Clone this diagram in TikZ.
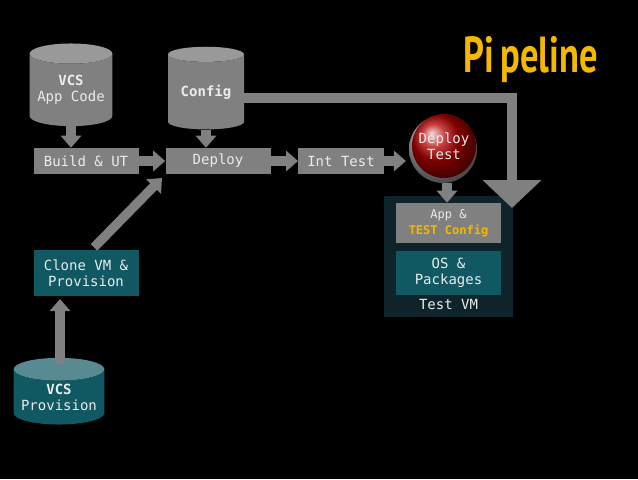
\documentclass[tikz,border=0pt]{standalone}
\usepackage{fontspec}
\setmonofont{DejaVu Sans Mono}
\newfontfamily\titlefont{PT Sans}
\usetikzlibrary{arrows.meta,shapes.geometric,shadings}
\definecolor{bggray}{RGB}{128,128,128}
\definecolor{teal1}{RGB}{16,88,98}
\definecolor{vmbg}{RGB}{14,36,42}
\definecolor{ylw}{RGB}{245,184,0}
\definecolor{txt}{RGB}{235,235,235}
\begin{document}
\begin{tikzpicture}[x=0.75pt,y=-0.75pt,
  font=\ttfamily\fontsize{10.5}{12}\selectfont,
  box/.style={fill=bggray,text=txt,minimum width=78.75pt,minimum height=19.5pt,inner sep=0pt,align=center},
  tbox/.style={box,fill=teal1},
  barrow/.style={draw=bggray,line width=7pt,-{Triangle[width=15pt,length=9pt]}},
  cyl/.style={cylinder,shape border rotate=90,aspect=0.3,draw=none,text=txt,align=center,inner sep=0pt}]
\useasboundingbox[fill=black] (0,0) rectangle (638,479);
% title
\node[text=ylw,font=\titlefont\bfseries\fontsize{38}{38}\selectfont,anchor=east,inner sep=0pt] (title) at (598,60) {\scalebox{0.72}[1]{Pi\,peline}};
% cylinders
\node[cyl,cylinder uses custom fill,cylinder body fill=bggray,cylinder end fill=bggray!80!white,minimum width=62pt,minimum height=62pt] (vcs) at (71,90) {\textbf{VCS}\\App Code};
\node[cyl,cylinder uses custom fill,cylinder body fill=bggray,cylinder end fill=bggray!80!white,minimum width=57pt,minimum height=62pt] (cfg) at (206,92) {\textbf{Config}};
\node[cyl,cylinder uses custom fill,cylinder body fill=teal1,cylinder end fill=teal1!70!white,minimum width=68pt,minimum height=50pt] (vcsp) at (59,397) {\textbf{VCS}\\Provision};
% boxes
\node[box] (build) at (86,161) {Build \& UT};
\node[box] (deploy) at (218,161) {Deploy};
\node[box,minimum width=64pt] (int) at (341,161) {Int Test};
\node[tbox,minimum height=35pt] (clone) at (86,273) {Clone VM \&\\Provision};
% test VM
\node[fill=vmbg,minimum width=97pt,minimum height=91pt,inner sep=0pt] (vm) at (448.5,256.5) {};
\node[box,minimum height=30pt,font=\ttfamily\fontsize{9}{12}\selectfont] (app) at (448.5,223) {App \&\\\textcolor{ylw}{\textbf{TEST Config}}};
\node[tbox,minimum height=33pt] (os) at (448.5,273) {OS \&\\Packages};
\node[text=txt,anchor=north] (vml) at (448.5,295) {Test VM};
% button
\shade[ball color=gray!60!white] (443,149) circle (34);
\node[circle,shading=ball,ball color=red!70!black,minimum size=48pt,inner sep=0pt,text=txt,align=center] (btn) at (444,146) {Deploy\\Test};
% arrows
\draw[barrow] (vcs.south) -- (vcs.south |- build.north);
\draw[barrow] (cfg.south) -- (cfg.south |- deploy.north);
\draw[barrow] (build.east) -- (deploy.west);
\draw[barrow] (deploy.east) -- (int.west);
\draw[barrow] (int.east) -- ++(22,0) coordinate (bi);
\draw[barrow] (447,183) -- (app.north -| 447,0);
\draw[barrow] (clone.north) ++(8,-2) coordinate (cs) -- (162,178);
\draw[barrow] (60,364) -- (60,299);
\draw[draw=bggray,line width=7pt,-{Triangle[width=43pt,length=21pt]}] (cfg.east |- 0,98) -- (512,98) -- (512,208);
\end{tikzpicture}
\end{document}
